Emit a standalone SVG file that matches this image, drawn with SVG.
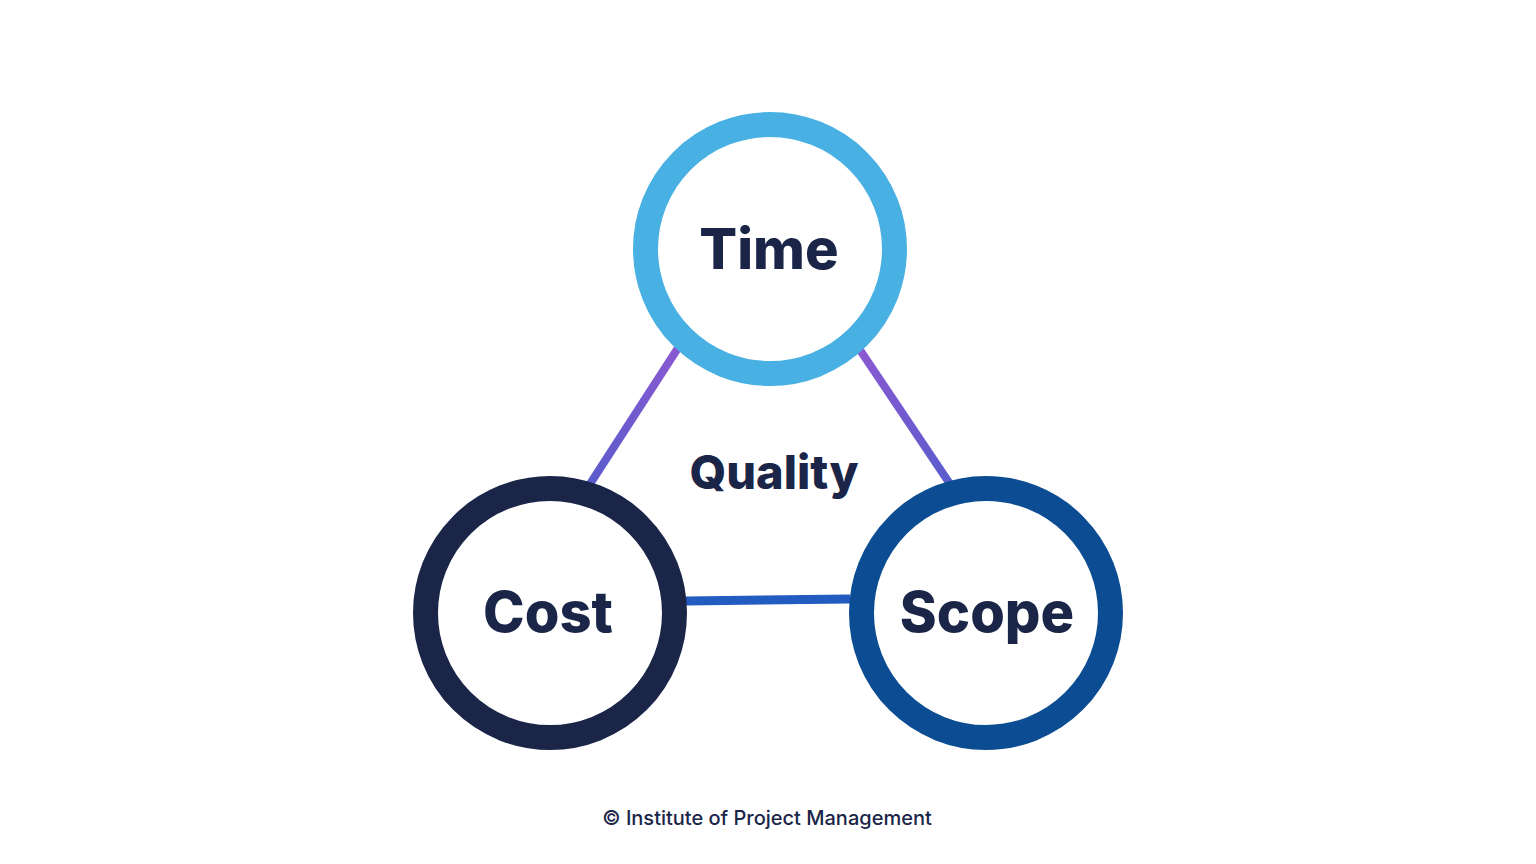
<svg xmlns="http://www.w3.org/2000/svg" width="1536" height="864" viewBox="0 0 1536 864">
<defs>
<linearGradient id="gL" gradientUnits="userSpaceOnUse" x1="678" y1="348" x2="590" y2="484">
<stop offset="0" stop-color="#8a59d2"/><stop offset="1" stop-color="#5a5ccc"/>
</linearGradient>
<linearGradient id="gR" gradientUnits="userSpaceOnUse" x1="860" y1="350" x2="950" y2="484">
<stop offset="0" stop-color="#8a59d2"/><stop offset="1" stop-color="#5a5ccc"/>
</linearGradient>
<style>
.ring{fill:#ffffff;stroke-width:25}
.lbl{font-family:Inter,"Liberation Sans",sans-serif;font-weight:800;fill:#1a2548;text-anchor:middle}
.foot{font-family:Inter,"Liberation Sans",sans-serif;font-weight:500;fill:#1a2548;text-anchor:middle;font-size:20px}
</style>
</defs>
<rect width="1536" height="864" fill="#ffffff"/>
<g id="connectors">
<line x1="678" y1="348" x2="590" y2="484" stroke="url(#gL)" stroke-width="8"/>
<line x1="860" y1="350" x2="950" y2="484" stroke="url(#gR)" stroke-width="8"/>
<line x1="686" y1="601" x2="850" y2="599" stroke="#235cc0" stroke-width="9"/>
</g>
<g id="time">
<circle class="ring" cx="770" cy="249" r="124.5" stroke="#48b0e2"/>
<text class="lbl" x="769" y="269" font-size="56">Time</text>
</g>
<g id="cost">
<circle class="ring" cx="550" cy="613" r="124.5" stroke="#1a2548"/>
<text class="lbl" x="548" y="632" font-size="56">Cost</text>
</g>
<g id="scope">
<circle class="ring" cx="986" cy="613" r="124.5" stroke="#0c4c92"/>
<text class="lbl" x="987" y="632" font-size="56">Scope</text>
</g>
<g id="quality">
<text class="lbl" x="774" y="489" font-size="47">Quality</text>
</g>
<text class="foot" x="767" y="825">© Institute of Project Management</text>
</svg>
